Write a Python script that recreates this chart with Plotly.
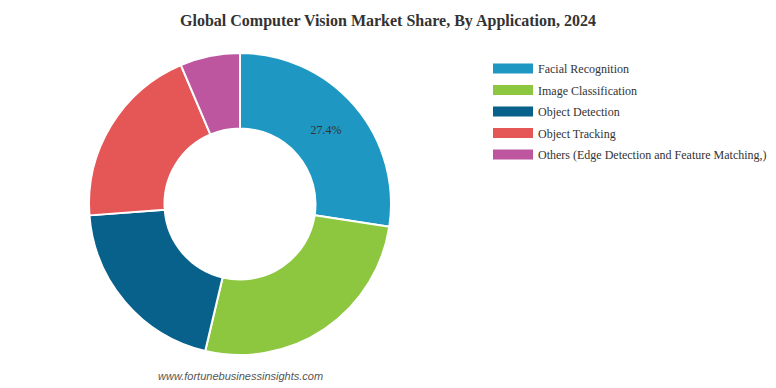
import plotly.graph_objects as go

categories = ["Facial Recognition", "Image Classification", "Object Detection",
              "Object Tracking", "Others (Edge Detection and Feature Matching,)"]
shares = [27.4, 26.3, 20.1, 19.8, 6.4]
slice_text = ["27.4%", "", "", "", ""]
colors = ["#1E98C2", "#8DC63F", "#08618A", "#E55757", "#BE559F"]

W, H = 776, 388
fig = go.Figure()
fig.add_trace(go.Pie(
    labels=categories, values=shares, text=slice_text,
    textinfo="text", textposition="inside", insidetextorientation="horizontal",
    textfont=dict(family="Liberation Serif", size=12, color="#333333"),
    marker=dict(colors=colors, line=dict(color="white", width=2)),
    hole=0.5, sort=False, direction="clockwise", rotation=0,
    domain=dict(x=[89 / W, 391 / W], y=[1 - 355 / H, 1 - 53 / H]),
    showlegend=False,
))
for i, (c, col) in enumerate(zip(categories, colors)):
    fig.add_trace(go.Scatter(
        x=[None], y=[None], mode="lines", name=c, legendgroup=str(i),
        line=dict(color=col, width=12), hoverinfo="skip",
    ))

fig.update_layout(
    width=W, height=H,
    margin=dict(l=0, r=0, t=0, b=0),
    paper_bgcolor="white", plot_bgcolor="white",
    xaxis=dict(visible=False), yaxis=dict(visible=False),
    title=dict(text="<b>Global Computer Vision Market Share, By Application, 2024</b>",
               x=0.5, xanchor="center", y=1 - 20 / H, yanchor="middle",
               font=dict(family="Liberation Serif", size=16, color="#333333")),
    legend=dict(x=488 / W, xanchor="left", y=1 - 54 / H, yanchor="top",
                itemwidth=40, tracegroupgap=2.5, traceorder="grouped",
                font=dict(family="Liberation Serif", size=12, color="#333333"),
                bgcolor="rgba(0,0,0,0)"),
    annotations=[dict(text="<i>www.fortunebusinessinsights.com</i>", x=240 / W, y=1 - 376 / H,
                      xref="paper", yref="paper", showarrow=False, xanchor="center", yanchor="middle",
                      font=dict(family="Liberation Sans", size=11, color="#555555"))],
)
fig.write_html("out.html", config={"displayModeBar": False},
               post_script="document.body.style.margin='0';")
